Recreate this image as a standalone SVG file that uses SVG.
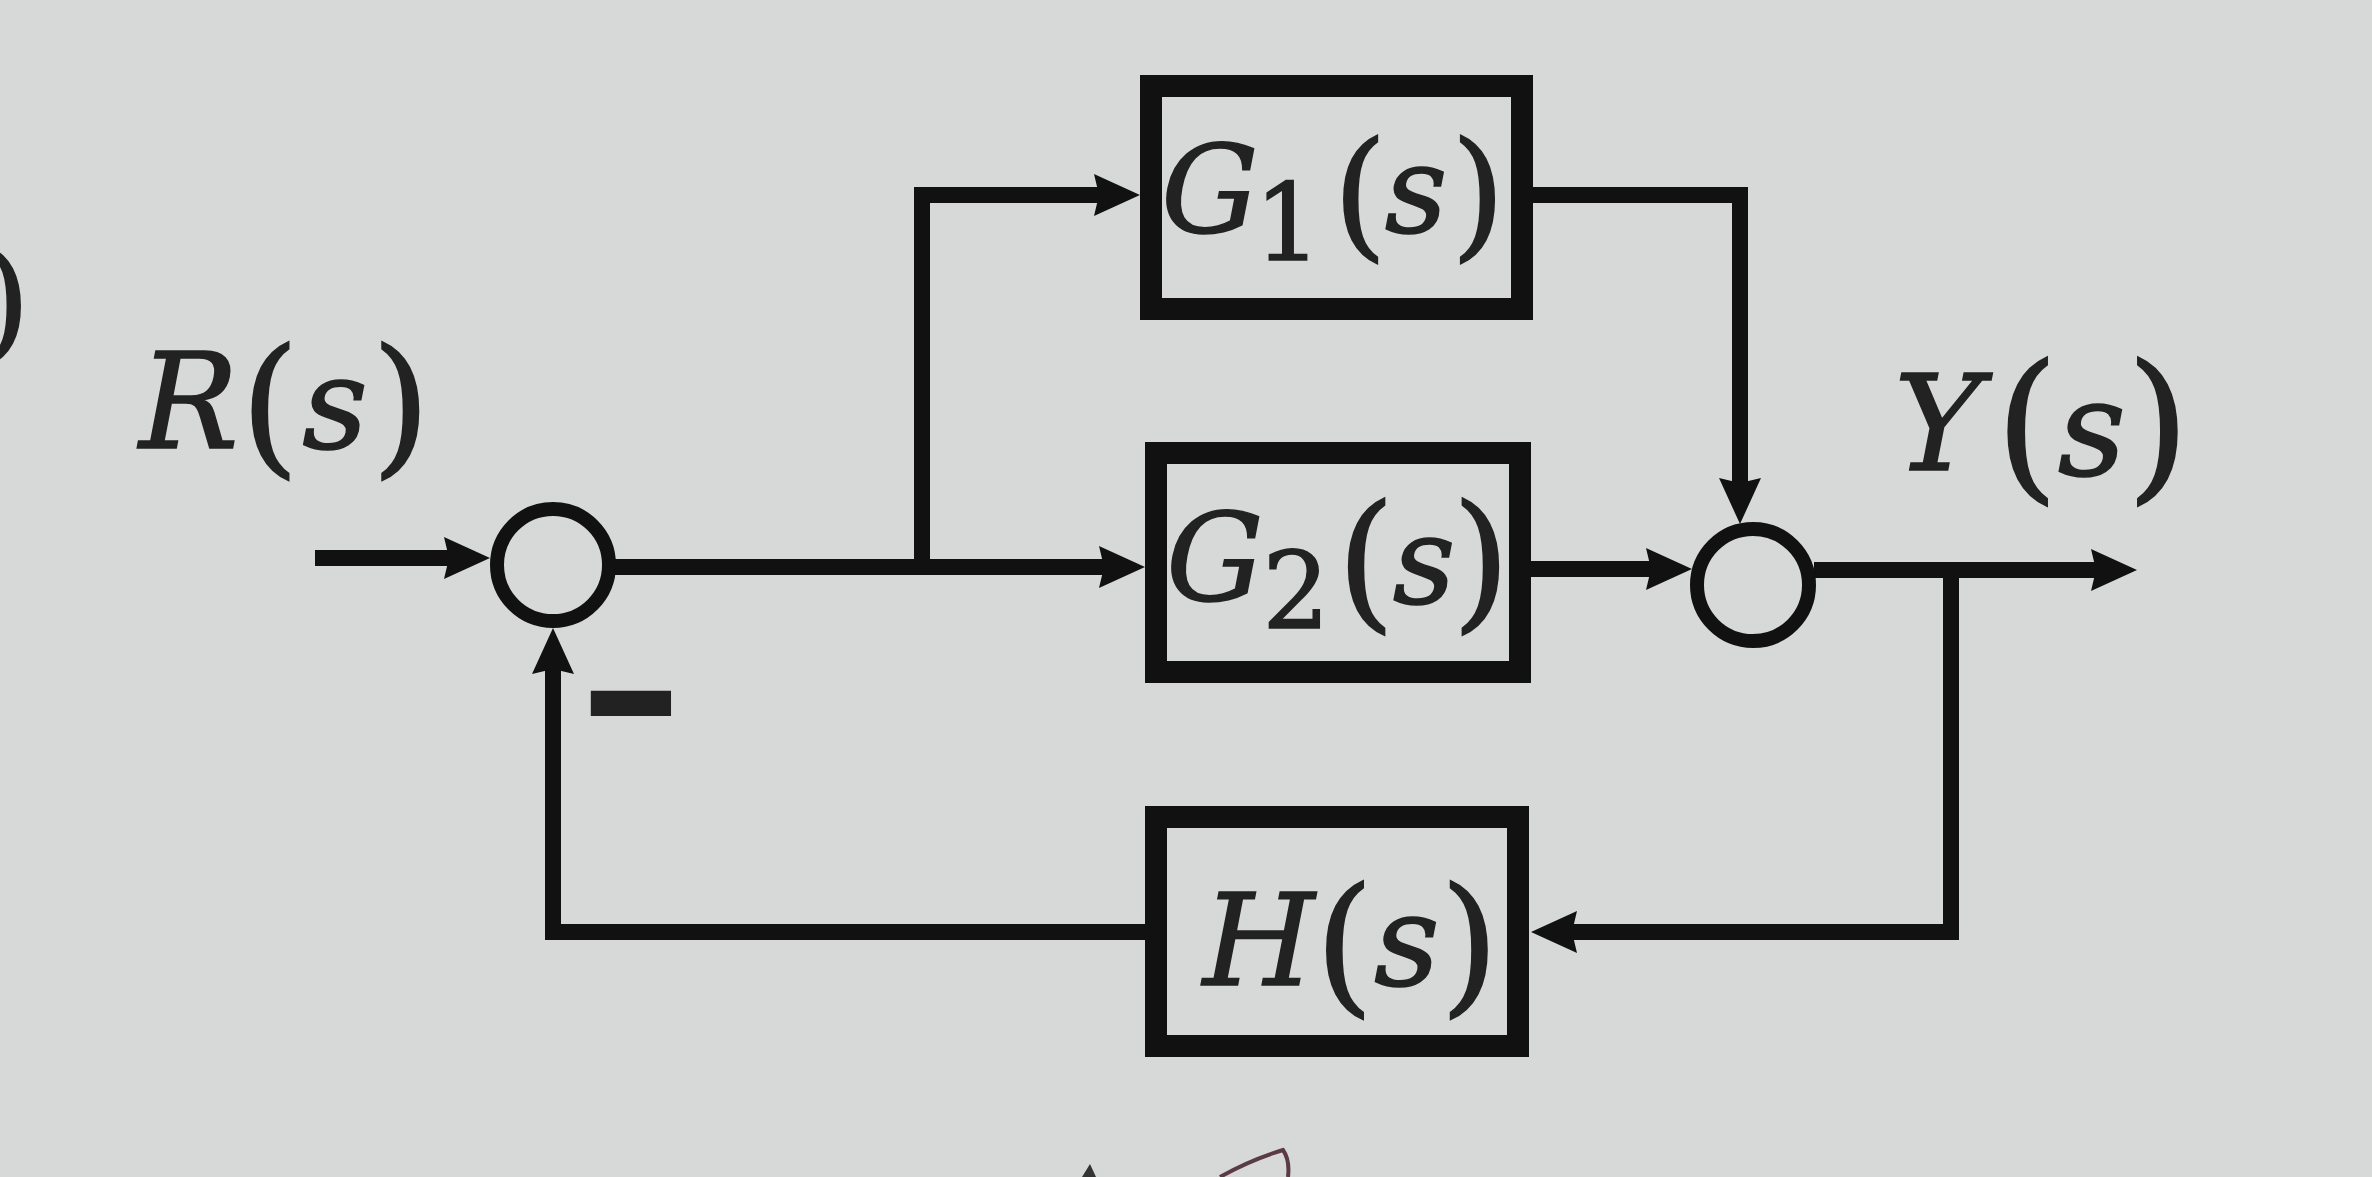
<svg xmlns="http://www.w3.org/2000/svg" width="2372" height="1177" viewBox="0 0 2372 1177">
<style>
.bg{fill:#d7d9d8}
.box{fill:none;stroke:#111;stroke-width:22}
.sum{fill:none;stroke:#111;stroke-width:14}
.wire{fill:none;stroke:#111;stroke-width:16;stroke-linejoin:miter;stroke-linecap:butt}
.lbl{font-family:"DejaVu Serif","Liberation Serif",serif;fill:#222;stroke:#222;stroke-width:1.5;text-anchor:middle}
.it{font-style:italic}
</style>
<defs>
<marker id="arr" markerUnits="userSpaceOnUse" viewBox="0 0 46 42" markerWidth="46" markerHeight="42" refX="20" refY="21" orient="auto">
<path d="M0 0 L46 21 L0 42 L5 21 Z" fill="#111"/>
</marker>
</defs>
<rect class="bg" x="0" y="0" width="2372" height="1177"/>
<g id="connectors">
<path class="wire" d="M315 558 H464" marker-end="url(#arr)"/>
<path class="wire" d="M615 567 H1119" marker-end="url(#arr)"/>
<path class="wire" d="M922 567 V195 H1114" marker-end="url(#arr)"/>
<path class="wire" d="M1531 195 H1740 V498" marker-end="url(#arr)"/>
<path class="wire" d="M1531 569 H1666" marker-end="url(#arr)"/>
<path class="wire" d="M1814 570 H2111" marker-end="url(#arr)"/>
<path class="wire" d="M1951 570 V932 H1557" marker-end="url(#arr)"/>
<path class="wire" d="M1145 932 H553 V654" marker-end="url(#arr)"/>
</g>
<g id="sum1"><circle class="sum" cx="553" cy="565" r="56"/></g>
<g id="sum2"><circle class="sum" cx="1753" cy="585" r="56"/></g>
<g id="G1">
<rect class="box" x="1151" y="86" width="371" height="223"/>
<text class="lbl" y="232" font-size="122"><tspan class="it" x="1210">G</tspan><tspan x="1288" y="260" font-size="106">1</tspan><tspan x="1360" y="242" font-size="140">(</tspan><tspan class="it" x="1416" y="232" font-size="122">s</tspan><tspan x="1478" y="242" font-size="140">)</tspan></text>
</g>
<g id="G2">
<rect class="box" x="1156" y="453" width="364" height="219"/>
<text class="lbl" y="600" font-size="122"><tspan class="it" x="1215">G</tspan><tspan x="1296" y="628" font-size="106">2</tspan><tspan x="1366" y="612" font-size="150">(</tspan><tspan class="it" x="1424" y="603" font-size="122">s</tspan><tspan x="1481" y="612" font-size="150">)</tspan></text>
</g>
<g id="H">
<rect class="box" x="1156" y="817" width="362" height="229"/>
<text class="lbl" x="1203" y="985" style="text-anchor:start"><tspan class="it" font-size="128">H</tspan><tspan y="996" font-size="152">(</tspan><tspan class="it" y="985" font-size="128">s</tspan><tspan y="996" font-size="152">)</tspan></text>
</g>
<g id="R">
<text class="lbl" y="448" font-size="132"><tspan class="it" x="189">R</tspan><tspan x="270" y="457" font-size="152">(</tspan><tspan class="it" x="335" y="448" font-size="128">s</tspan><tspan x="401" y="457" font-size="152">)</tspan></text>
</g>
<g id="Y">
<text class="lbl" y="470" font-size="133"><tspan class="it" x="1938">Y</tspan><tspan x="2027" y="481" font-size="163">(</tspan><tspan class="it" x="2092" y="475" font-size="133">s</tspan><tspan x="2158" y="481" font-size="163">)</tspan></text>
</g>
<g id="minus">
<text x="590" y="750" font-size="140" font-weight="bold" fill="#222" stroke="#222" stroke-width="10" style="font-family:'Liberation Sans',sans-serif">−</text>
</g>
<text class="lbl" x="5" y="345" font-size="130">)</text>
<path d="M1082 1177 L1090 1164 L1096 1177 Z" fill="#333"/>
<path d="M1220 1177 Q1250 1160 1283 1150 Q1290 1160 1288 1177" fill="none" stroke="#5a3a44" stroke-width="4"/>
</svg>
